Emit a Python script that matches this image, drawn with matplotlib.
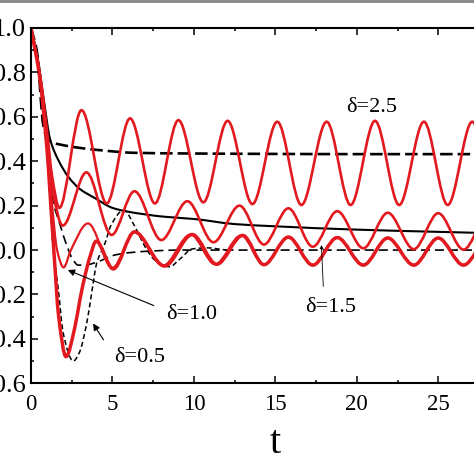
import numpy as np
import matplotlib
matplotlib.use("Agg")
import matplotlib.pyplot as plt
from matplotlib.path import Path
from matplotlib.patches import PathPatch, Rectangle

plt.rcParams["font.family"] = ["Liberation Serif", "DejaVu Serif"]
plt.rcParams["lines.scale_dashes"] = False

# Valeurs (t, valeur)
red_25_t = [0, 0.55, 0.95, 1.3, 1.74, 3.1, 4.65, 6.08, 7.61, 9.05, 10.58, 12.07, 13.59,
            15.12, 16.6, 18.15, 19.62, 21.12, 22.6, 24.12, 25.58, 27.09, 28.6, 30.1]
red_25_y = [1.0, 0.79, 0.56, 0.33, 0.19, 0.63, 0.21, 0.593, 0.21, 0.585, 0.215, 0.582, 0.207,
            0.578, 0.203, 0.578, 0.203, 0.582, 0.203, 0.578, 0.203, 0.578, 0.203, 0.578]

red_15_t = [0, 0.55, 0.95, 1.35, 1.95, 3.4, 4.95, 6.35, 8.0, 9.6, 11.2, 12.8, 14.3, 15.8,
            17.3, 18.8, 20.4, 21.9, 23.5, 25.0, 26.55, 28.1, 29.65]
red_15_y = [1.0, 0.78, 0.52, 0.26, 0.11, 0.35, 0.068, 0.265, 0.045, 0.22, 0.035, 0.2, 0.025,
            0.188, 0.015, 0.175, 0.008, 0.168, 0.004, 0.166, 0.002, 0.164, 0.0]

red_10_t = [0, 0.55, 0.95, 1.3, 1.6, 2.0, 2.45, 3.5, 5.0, 6.35, 8.1, 9.8, 11.3, 12.9, 14.3,
            15.8, 17.3, 18.8, 20.4, 21.9, 23.5, 25.0, 26.55, 28.1, 29.65]
red_10_y = [1.0, 0.78, 0.5, 0.2, 0.0, -0.078, 0.0, 0.12, -0.08, 0.08, -0.07, 0.07, -0.064,
            0.066, -0.065, 0.06, -0.066, 0.058, -0.066, 0.056, -0.066, 0.055, -0.066, 0.055, -0.066]

red_05_t = [0, 0.55, 0.95, 1.4, 1.7, 2.15, 2.7, 3.0, 3.3, 3.62, 4.0, 5.05, 6.35, 8.2, 9.9,
            11.4, 13.0, 14.3, 15.8, 17.3, 18.8, 20.4, 21.9, 23.5, 25.0, 26.55, 28.1, 29.65]
red_05_y = [1.0, 0.77, 0.48, 0.0, -0.3, -0.48, -0.345, -0.225, -0.12, -0.03, 0.04, -0.085,
            0.082, -0.072, 0.07, -0.064, 0.066, -0.066, 0.058, -0.068, 0.056, -0.068, 0.054,
            -0.068, 0.054, -0.068, 0.054, -0.068]

black_15_t = [0, 0.4, 0.8, 1.17, 1.68, 2.29, 3.0, 3.9, 5.0, 5.8, 8.2, 10.0, 12.5, 15.0, 20.0, 25.0, 30.0]
black_15_y = [1.0, 0.87, 0.67, 0.5, 0.405, 0.33, 0.275, 0.235, 0.19, 0.175, 0.15, 0.14, 0.117,
              0.107, 0.092, 0.082, 0.073]

black_25_t = [0, 0.35, 0.76, 1.0, 1.3, 1.8, 3.0, 4.2, 6.3, 9.5, 15, 20, 30]
black_25_y = [1.0, 0.9, 0.56, 0.5, 0.485, 0.475, 0.46, 0.45, 0.438, 0.435, 0.433, 0.432, 0.432]

black_10_t = [0, 0.5, 0.9, 1.06, 1.3, 1.8, 2.2, 2.55, 2.9, 3.5, 4.2, 5.0, 6.0, 7.5, 9.0, 30]
black_10_y = [1.0, 0.8, 0.52, 0.4, 0.24, 0.11, 0.02, -0.04, -0.068, -0.065, -0.05, -0.025,
              -0.012, -0.004, 0.0, 0.0]

black_05_t = [0, 0.5, 0.95, 1.37, 1.68, 1.98, 2.6, 2.95, 3.42, 3.72, 4.03, 4.54, 4.9, 5.7,
              6.38, 7.0, 7.6, 8.5, 9.15, 9.9, 10.8, 12.0]
black_05_y = [1.0, 0.8, 0.5, 0.0, -0.18, -0.375, -0.5, -0.465, -0.33, -0.195, -0.06, 0.03,
              0.11, 0.18, 0.105, 0.015, -0.045, -0.075, -0.04, 0.005, 0.01, 0.0]

x_ticks = [0, 5, 10, 15, 20, 25, 30]
x_minor = [2.5, 7.5, 12.5, 17.5, 22.5, 27.5]
y_ticks = [-0.6, -0.4, -0.2, 0.0, 0.2, 0.4, 0.6, 0.8, 1.0]
y_labels = ["-0.6", "-0.4", "-0.2", "0.0", "0.2", "0.4", "0.6", "0.8", "1.0"]
y_minor = [-0.5, -0.3, -0.1, 0.1, 0.3, 0.5, 0.7, 0.9]

RED = "#e2191e"


def smooth_path(t, y):
    # courbe de Bezier passant par les points lus (tangentes nulles aux extrema)
    t = np.asarray(t, float)
    y = np.asarray(y, float)
    h = np.diff(t)
    d = np.diff(y) / h
    m = np.zeros(len(t))
    m[0], m[-1] = d[0], d[-1]
    for i in range(1, len(t) - 1):
        if d[i - 1] * d[i] > 0:
            w1 = 2 * h[i] + h[i - 1]
            w2 = h[i] + 2 * h[i - 1]
            m[i] = (w1 + w2) / (w1 / d[i - 1] + w2 / d[i])
    verts = [(t[0], y[0])]
    codes = [Path.MOVETO]
    for i in range(len(h)):
        verts += [(t[i] + h[i] / 3, y[i] + m[i] * h[i] / 3),
                  (t[i + 1] - h[i] / 3, y[i + 1] - m[i + 1] * h[i] / 3),
                  (t[i + 1], y[i + 1])]
        codes += [Path.CURVE4] * 3
    return Path(verts, codes)


def draw(ax, t, y, **kw):
    ax.add_patch(PathPatch(smooth_path(t, y), fill=False, capstyle="butt",
                           joinstyle="round", **kw))


fig = plt.figure(figsize=(4.74, 4.74), dpi=100)
ax = fig.add_axes([31 / 474, 90.7 / 474, 30 * 16.29 / 474, 355.3 / 474])

draw(ax, black_25_t, black_25_y, edgecolor="black", lw=1.9, linestyle=(0, (9, 3.6)))
draw(ax, black_15_t, black_15_y, edgecolor="black", lw=1.5)
draw(ax, black_10_t, black_10_y, edgecolor="black", lw=1.2, linestyle=(0, (6.5, 3.6)))
draw(ax, black_05_t, black_05_y, edgecolor="black", lw=1.1, linestyle=(0, (3.6, 2.2)))
draw(ax, red_25_t, red_25_y, edgecolor=RED, lw=1.9)
draw(ax, red_15_t, red_15_y, edgecolor=RED, lw=1.9)
draw(ax, red_10_t, red_10_y, edgecolor=RED, lw=1.6)
draw(ax, red_05_t, red_05_y, edgecolor=RED, lw=2.5)

ax.set_xlim(0, 30)
ax.set_ylim(-0.6, 1.0)
ax.set_xticks(x_ticks)
ax.set_xticks(x_minor, minor=True)
ax.set_yticks(y_ticks)
ax.set_yticklabels(y_labels)
ax.set_yticks(y_minor, minor=True)
ax.tick_params(which="both", direction="in", top=True, right=True, width=1.1)
ax.tick_params(which="major", length=5)
ax.tick_params(which="minor", length=2.5)
ax.tick_params(axis="x", pad=8, labelsize=16.5)
ax.tick_params(axis="y", pad=3.5, labelsize=19)
for s in ax.spines.values():
    s.set_linewidth(1.5)
ax.set_xlabel("t", fontsize=29, labelpad=7)

arrow = dict(arrowstyle="-|>", color="black", lw=0.8, mutation_scale=10)
ax.annotate("", xy=(2.1, -0.085), xytext=(7.7, -0.255), arrowprops=arrow)
ax.annotate("", xy=(3.72, -0.32), xytext=(4.54, -0.415), arrowprops=arrow)
ax.annotate("", xy=(17.82, 0.035), xytext=(17.95, -0.176),
            arrowprops=dict(arrowstyle="-|>", color="black", lw=0.6, mutation_scale=5))
ax.text(20.9, 0.622, "δ=2.5", fontsize=16, ha="center", va="baseline")
ax.text(9.88, -0.311, "δ=1.0", fontsize=16, ha="center", va="baseline")
ax.text(6.69, -0.505, "δ=0.5", fontsize=16, ha="center", va="baseline")
ax.text(18.42, -0.28, "δ=1.5", fontsize=16, ha="center", va="baseline")

fig.add_artist(Rectangle((0, 1 - 3 / 474), 1, 3 / 474, transform=fig.transFigure,
                         color="#8c8c8c", lw=0))

fig.savefig("out.png", dpi=100)
